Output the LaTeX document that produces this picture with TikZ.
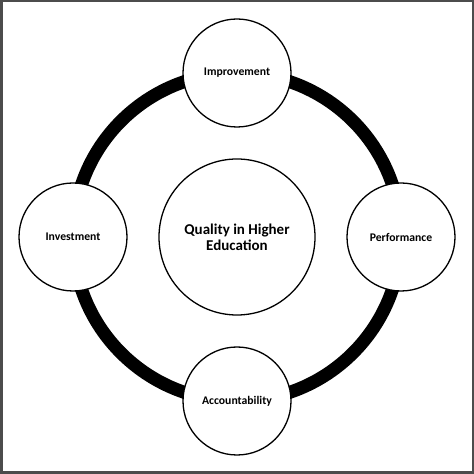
\documentclass[tikz,border=0pt]{standalone}
\usepackage{fontspec}
\setmainfont{Carlito}
\usetikzlibrary{positioning,calc}

\tikzset{
  bubble/.style={circle, draw, line width=1.3pt, fill=white, minimum size=108pt, inner sep=0pt, font=\bfseries\fontsize{11.7}{14}\selectfont},
  hub/.style={circle, draw, line width=1.3pt, fill=white, minimum size=156pt, inner sep=0pt, align=center, font=\bfseries\fontsize{15}{17}\selectfont},
}

\begin{document}
\begin{tikzpicture}[x=1pt,y=1pt]
        \useasboundingbox (0,0) rectangle (474,474);
        % outer frame
        \draw[line width=2.5pt, gray!60!black] (1.25,1.25) rectangle (472.75,472.75);

        \coordinate (O) at (237,237); % centre of the ring

        % thick ring behind the bubbles
        \draw[line width=13pt] (O) circle (164);

        \node[hub] (quality) at (O) {Quality in Higher\\[-1pt]Education};

        \node[bubble] (impr) at ($(O)+(0,164)$) {Improvement};
        \node[bubble] (perf) at ($(O)+(164,0)$) {Performance};
        \node[bubble] (acc)  at ($(O)+(0,-164)$) {Accountability};
        \node[bubble] (inv)  at ($(O)+(-164,0)$) {Investment};

    \end{tikzpicture}
\end{document}
